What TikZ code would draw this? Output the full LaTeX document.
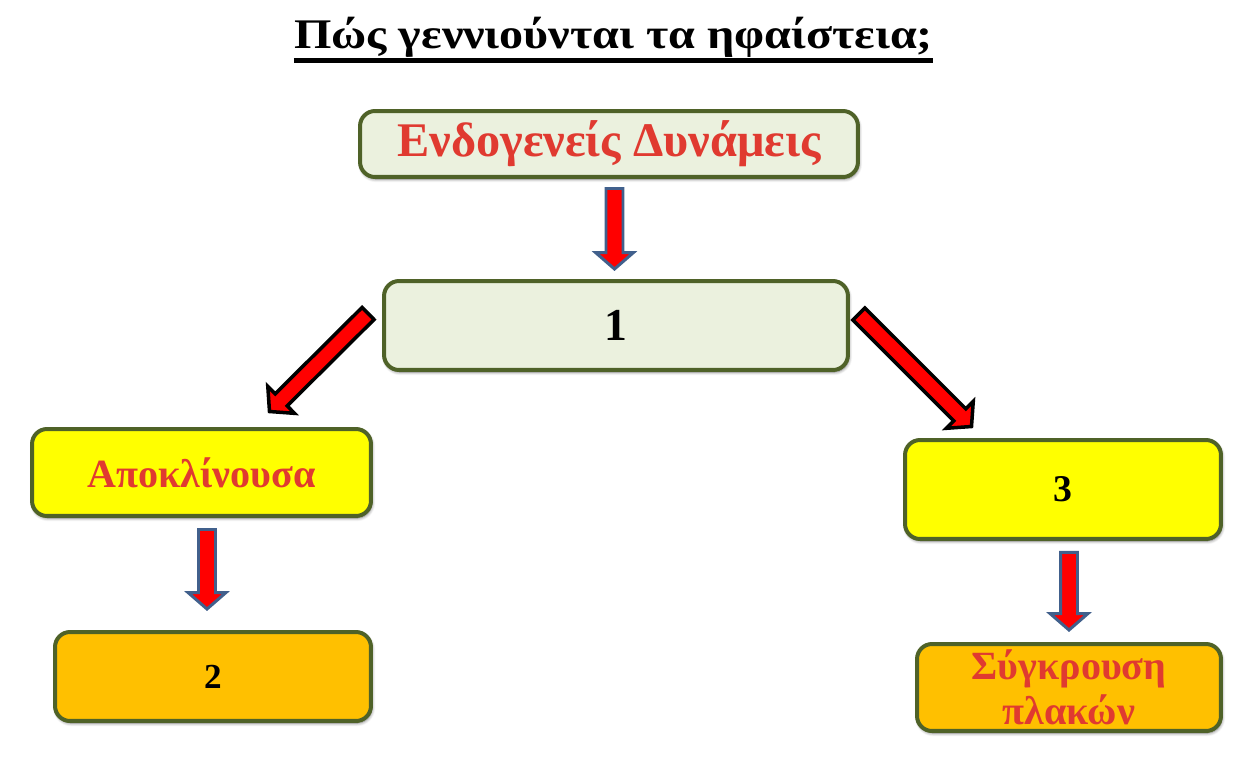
\documentclass[tikz,border=0pt]{standalone}
\usepackage{fontspec}
\setmainfont{Liberation Serif}
\newfontfamily\titlefont[FakeStretch=1.14]{Liberation Serif}
\usetikzlibrary{calc,shadows.blur}

\definecolor{boxline}{RGB}{79,98,40}
\definecolor{palegreen}{RGB}{235,241,222}
\definecolor{gold}{RGB}{255,192,0}
\definecolor{lemon}{RGB}{255,255,0}
\definecolor{textred}{RGB}{224,58,48}
\definecolor{arrowblue}{RGB}{65,96,140}

\tikzset{
  box/.style={draw=boxline, line width=0.08cm, rounded corners=0.3cm, align=center,
    blur shadow={shadow xshift=0.6pt, shadow yshift=-1.2pt, shadow blur steps=6,
      shadow blur extra rounding=2.5pt, shadow opacity=55}},
  redarrow/.style={fill=red, draw=#1, line width=1.7pt, line join=miter},
}

% block arrow from #2 to #3 (named coordinates)
\newcommand{\arrw}{0.17cm}
\newcommand{\arrhw}{0.38cm}
\newcommand{\arrhl}{0.33cm}
\newcommand{\blockarrow}[3]{%
  \coordinate (#2-h) at ($(#3)!\arrhl!(#2)$);
  \draw[#1] ($(#2)!\arrw!90:(#3)$)
    -- ($(#2-h)!\arrw!-90:(#2)$)
    -- ($(#2-h)!\arrhw!-90:(#2)$)
    -- (#3)
    -- ($(#2-h)!\arrhw!90:(#2)$)
    -- ($(#2-h)!\arrw!90:(#2)$)
    -- ($(#2)!\arrw!-90:(#3)$) -- cycle;
}

\begin{document}
\begin{tikzpicture}[x=0.02cm, y=-0.02cm]

\useasboundingbox (0,0) rectangle (1259,764);

% Title
\node[font=\titlefont\bfseries\fontsize{24}{29}\selectfont, inner sep=0, anchor=base] (title) at (613.5,49) {Πώς γεννιούνται τα ηφαίστεια;};
\draw[line width=0.09cm] ([yshift=-6.5pt]title.base west) -- ([yshift=-6.5pt]title.base east);

% Boxes
\node[box, fill=palegreen, minimum width=9.96cm, minimum height=1.32cm, text=textred,
  font=\bfseries\fontsize{27.5}{33}\selectfont] (top) at (609,144) {Ενδογενείς Δυνάμεις};
\node[box, fill=palegreen, minimum width=9.28cm, minimum height=1.78cm,
  font=\bfseries\fontsize{26}{31}\selectfont] (one) at (616,325.5) {1};
\node[box, fill=lemon, minimum width=6.78cm, minimum height=1.74cm, text=textred,
  font=\bfseries\fontsize{22.8}{27}\selectfont] (apok) at (201.5,472.5) {Αποκλίνουσα};
\node[box, fill=gold, minimum width=6.32cm, minimum height=1.78cm,
  font=\bfseries\fontsize{20}{24}\selectfont] (two) at (213,676.5) {2};
\node[box, fill=lemon, minimum width=6.32cm, minimum height=1.98cm,
  font=\bfseries\fontsize{21.5}{25}\selectfont] (three) at (1063,489.5) {3};
\node[box, fill=gold, minimum width=6.08cm, minimum height=1.74cm, text=textred,
  font=\bfseries\fontsize{22.8}{25.6}\selectfont] (syg) at (1069,687.5) {Σύγκρουση\\πλακών};

% Arrow ends
\coordinate (a1s) at ($(top.south)+(5.5,9.5)$);
\coordinate (a1e) at ($(one.north)+(-1.5,-10)$);
\coordinate (a2s) at ($(one.west)+(-14,-12)$);
\coordinate (a2e) at ($(apok.north)+(68,-15.5)$);
\coordinate (a3s) at ($(one.east)+(9,-11.5)$);
\coordinate (a3e) at ($(three.north)+(-91.5,-11.5)$);
\coordinate (a4s) at ($(apok.south)+(5.5,11.5)$);
\coordinate (a4e) at ($(two.north)+(-6,-21)$);
\coordinate (a5s) at ($(three.south)+(6,11.5)$);
\coordinate (a5e) at ($(syg.north)+(0,-12)$);

% Arrows
\blockarrow{redarrow=arrowblue}{a1s}{a1e}
\blockarrow{redarrow=black, line width=2pt}{a2s}{a2e}
\blockarrow{redarrow=black, line width=2pt}{a3s}{a3e}
\blockarrow{redarrow=arrowblue}{a4s}{a4e}
\blockarrow{redarrow=arrowblue}{a5s}{a5e}

\end{tikzpicture}
\end{document}
